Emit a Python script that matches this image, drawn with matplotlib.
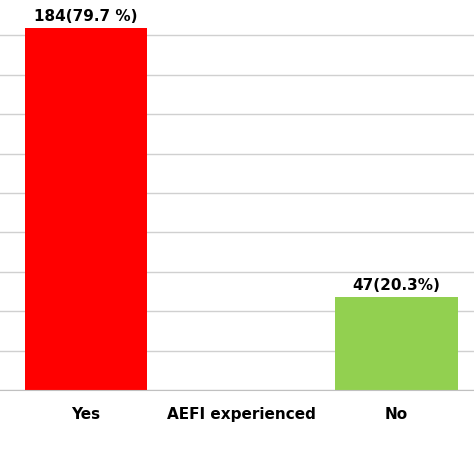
import matplotlib.pyplot as plt

categories = ["Yes", "AEFI experienced", "No"]
values = [184, 0, 47]
labels = ["184(79.7 %)", "", "47(20.3%)"]
colors = ["#ff0000", "none", "#92d050"]

fig = plt.figure(figsize=(4.74, 4.74), dpi=100)
ax = fig.add_axes([0, 84 / 474, 1, 390 / 474])

ax.set_axisbelow(True)
ax.yaxis.grid(True, color="#d0d0d0", linewidth=1)
bars = ax.bar(range(3), values, width=0.79, color=colors)
for b, lab in zip(bars, labels):
    if lab:
        ax.text(b.get_x() + b.get_width() / 2, b.get_height() + 2, lab,
                ha="center", va="bottom", fontsize=11, fontweight="bold")

ax.set_xlim(-0.555, 2.5)
ax.set_ylim(0, 198)
ax.set_yticks(range(0, 200, 20))
ax.tick_params(axis="y", left=False, labelleft=False)
ax.tick_params(axis="x", length=0, pad=12)
ax.set_xticks(range(3))
ax.set_xticklabels(categories, fontsize=11, fontweight="bold")
for s in ["top", "right", "left"]:
    ax.spines[s].set_visible(False)
ax.spines["bottom"].set_color("#c0c0c0")

fig.savefig("out.png", dpi=100)
